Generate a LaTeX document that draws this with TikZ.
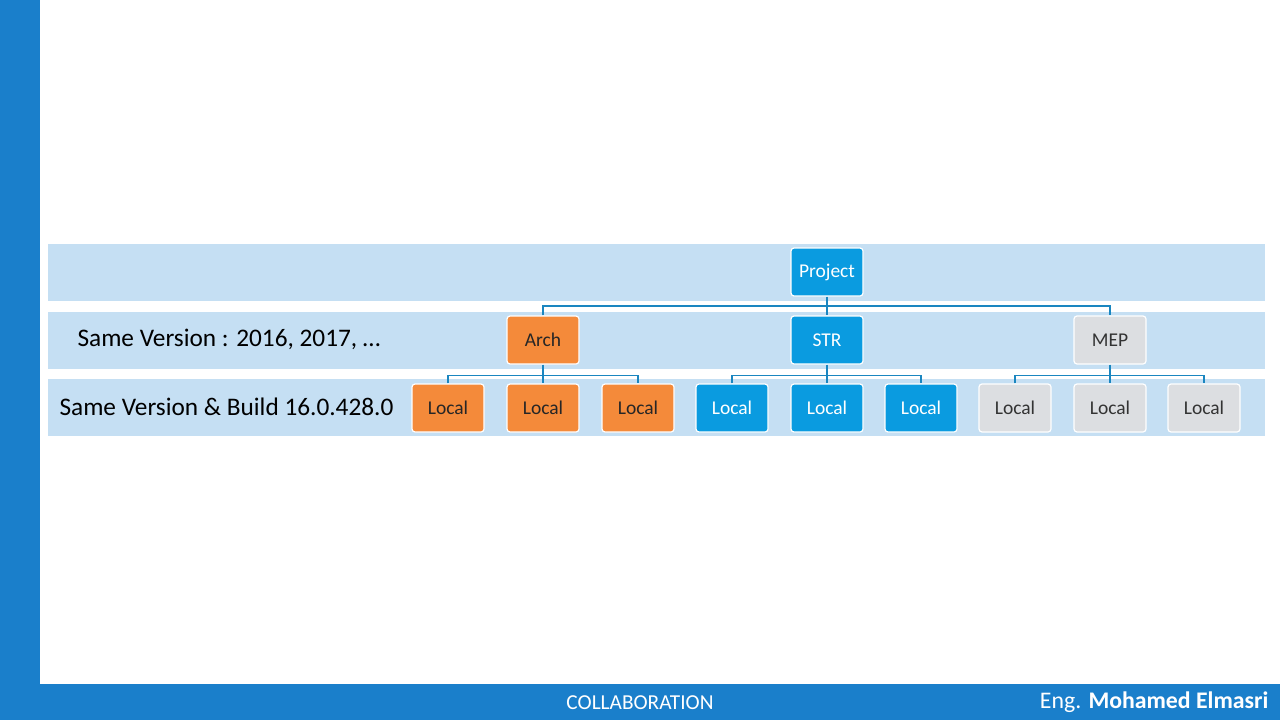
\documentclass[tikz,border=0pt]{standalone}
\usepackage{fontspec}
\setmainfont{Carlito}
\definecolor{barblue}{HTML}{1A7FCB}
\definecolor{band}{HTML}{C5DFF3}
\definecolor{nblue}{HTML}{0A9BE0}
\definecolor{norange}{HTML}{F48A3A}
\definecolor{ngray}{HTML}{DCDEE1}
\definecolor{lineblue}{HTML}{1A86C0}
\tikzset{x=1pt,y=-1pt,
 box/.style={draw=white,line width=1.2pt,rounded corners=3pt,minimum width=72pt,minimum height=48pt,font=\fontsize{19.5}{21}\selectfont},
 bluebox/.style={box,fill=nblue,text=white},
 orbox/.style={box,fill=norange,text=black!85},
 graybox/.style={box,fill=ngray,text=black!80},
 conn/.style={draw=lineblue,line width=1.6pt},
 bandbox/.style={fill=band,draw=white,line width=1pt}}
\begin{document}
\begin{tikzpicture}
\useasboundingbox (0,0) rectangle (1280,720);
\fill[white] (0,0) rectangle (1280,720);
\fill[barblue] (0,0) rectangle (40,720);
\fill[barblue] (0,684) rectangle (1280,720);
\node[white,font=\fontsize{21.3}{23}\selectfont] (foot) at (640,703) {COLLABORATION};
\node[white,anchor=east,font=\fontsize{23.8}{25}\selectfont] (auth) at (1272,702) {Eng. \textbf{Mohamed Elmasri}};
\draw[bandbox] (47,243) rectangle (1265,301);
\draw[bandbox] (47,311) rectangle (1265,369);
\draw[bandbox] (47,378) rectangle (1265,436);
\node[font=\fontsize{25.3}{27}\selectfont,anchor=west] (l1) at (74,339) {Same Version : 2016, 2017, …};
\node[font=\fontsize{25.3}{27}\selectfont,anchor=west] (l2) at (56,407) {Same Version \& Build 16.0.428.0};
\node[bluebox] (P) at (827,272) {Project};
\node[orbox] (A) at (543,340) {Arch};
\node[bluebox] (S) at (827,340) {STR};
\node[graybox] (M) at (1110,340) {MEP};
\foreach \n/\x/\s in {a1/448/orbox,a2/543/orbox,a3/638/orbox,s1/732/bluebox,s2/827/bluebox,s3/921/bluebox,m1/1015/graybox,m2/1110/graybox,m3/1204/graybox}
  \node[\s] (\n) at (\x,408) {Local};
\draw[conn] (P.south) -- (S.north);
\draw[conn] (A.north) |- (827,306) -| (M.north);
\foreach \p/\a/\b/\c in {A/a1/a2/a3,S/s1/s2/s3,M/m1/m2/m3}{
  \draw[conn] (\p.south) -- (\b.north);
  \draw[conn] (\a.north) -- ++(0,-8) -| (\c.north);
}
\end{tikzpicture}
\end{document}
